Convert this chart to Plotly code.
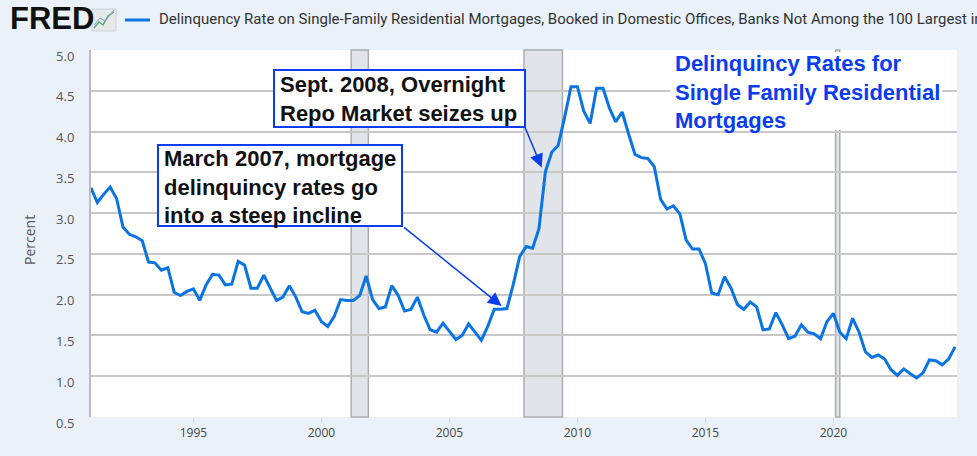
import pandas as pd
import plotly.graph_objects as go

# ---------------- data ----------------
start_quarter = "1991-01-01"
delinquency_rate = [
    3.31, 3.13, 3.23, 3.32, 3.18, 2.83, 2.74, 2.71, 2.66, 2.40,
    2.39, 2.30, 2.33, 2.03, 1.99, 2.04, 2.07, 1.93, 2.12, 2.25,
    2.24, 2.12, 2.13, 2.41, 2.36, 2.08, 2.08,
    2.24, 2.08, 1.93, 1.97, 2.11, 1.97, 1.79, 1.77, 1.81, 1.67,
    1.61, 1.73, 1.94, 1.93, 1.93, 1.99, 2.23, 1.94, 1.83, 1.85,
    2.11, 1.99, 1.80, 1.82, 1.97, 1.75, 1.57,
    1.54, 1.65, 1.55, 1.45, 1.50, 1.64, 1.54, 1.44, 1.61, 1.82,
    1.82, 1.83, 2.13, 2.47, 2.59, 2.57, 2.81, 3.51, 3.75, 3.83,
    4.17, 4.55, 4.55, 4.25, 4.10, 4.53,
    4.53, 4.29, 4.12, 4.24, 3.97, 3.72, 3.68, 3.67, 3.57, 3.17,
    3.05, 3.09, 2.99, 2.67, 2.56, 2.56, 2.38, 2.02, 2.00, 2.22,
    2.08, 1.88, 1.82, 1.91, 1.85,
    1.57, 1.58, 1.78, 1.63, 1.46, 1.49, 1.63, 1.54, 1.52, 1.46,
    1.67, 1.77, 1.54, 1.46, 1.71, 1.54, 1.30, 1.23, 1.26, 1.21,
    1.08, 1.01, 1.09, 1.03, 0.98, 1.04, 1.20, 1.19, 1.14, 1.21,
    1.36,
]
quarters = pd.date_range(start_quarter, periods=len(delinquency_rate), freq="QS")

recession_starts = ["2001-03-01", "2007-12-01", "2020-02-01"]
recession_ends = ["2001-11-01", "2009-06-01", "2020-04-01"]

tick_years = [1995, 2000, 2005, 2010, 2015, 2020]
y_ticks = [0.5, 1.0, 1.5, 2.0, 2.5, 3.0, 3.5, 4.0, 4.5, 5.0]

series_title = ("Delinquency Rate on Single-Family Residential Mortgages, Booked in "
                "Domestic Offices, Banks Not Among the 100 Largest in Size by Assets")
note_2007 = "March 2007, mortgage<br>delinquincy rates go<br>into a steep incline"
note_2008 = "Sept. 2008, Overnight<br>Repo Market seizes up"
chart_caption = "Delinquincy Rates for<br>Single Family Residential<br>Mortgages"

# ---------------- layout helpers ----------------
W, H = 977, 456
PL, PR, PT, PB = 91, 957, 50, 417


def px(x):
    return (x - PL) / (PR - PL)


def py(y):
    return (PB - y) / (PB - PT)


LINE_BLUE = "#0b74e3"
NOTE_BLUE = "#0a3cf0"
BG = "#eaf1f9"

fig = go.Figure()
fig.add_trace(go.Scatter(
    x=quarters, y=delinquency_rate, mode="lines",
    line=dict(color=LINE_BLUE, width=3), showlegend=False,
    hoverinfo="x+y",
))

shapes = []
for s, e in zip(recession_starts, recession_ends):
    shapes.append(dict(type="rect", xref="x", yref="paper", x0=s, x1=e, y0=0, y1=1,
                       fillcolor="#e1e5ea", line=dict(color="#a9adb1", width=1.5),
                       layer="below"))

# annotation boxes
shapes.append(dict(type="rect", xref="paper", yref="paper",
                   x0=px(158), x1=px(402), y0=py(226), y1=py(145),
                   fillcolor="white", line=dict(color=NOTE_BLUE, width=2), layer="above"))
shapes.append(dict(type="rect", xref="paper", yref="paper",
                   x0=px(274), x1=px(525), y0=py(127), y1=py(70),
                   fillcolor="white", line=dict(color=NOTE_BLUE, width=2), layer="above"))
shapes.append(dict(type="rect", xref="paper", yref="paper",
                   x0=px(670), x1=px(942), y0=py(130), y1=py(52),
                   fillcolor="white", line=dict(width=0), layer="above"))

# header: legend line + logo icon
shapes.append(dict(type="line", xref="paper", yref="paper",
                   x0=px(125), x1=px(150), y0=py(20), y1=py(20),
                   line=dict(color=LINE_BLUE, width=3)))
shapes.append(dict(type="rect", xref="paper", yref="paper",
                   x0=px(92), x1=px(116), y0=py(31), y1=py(9),
                   fillcolor="#e6e8ea", line=dict(color="#d0d4d8", width=1)))
shapes.append(dict(type="path", xref="paper", yref="paper",
                   path=(f"M {px(94)} {py(28)} L {px(99)} {py(22)} L {px(103)} {py(25)} "
                         f"L {px(108)} {py(16)} L {px(114)} {py(12)}"),
                   line=dict(color="#5aa870", width=1.5)))
shapes.append(dict(type="path", xref="paper", yref="paper",
                   path=(f"M {px(94)} {py(25)} L {px(100)} {py(18)} L {px(105)} {py(21)} "
                         f"L {px(114)} {py(10)}"),
                   line=dict(color="#7a9fc8", width=1)))

annotations = []
bold = "Liberation Sans, Arial, sans-serif"
annotations.append(dict(xref="paper", yref="paper", x=px(162), y=py(186.5),
                        xanchor="left", yanchor="middle", align="left", showarrow=False,
                        text=f"<b>{note_2007}</b>",
                        font=dict(family=bold, size=22, color="#111111")))
annotations.append(dict(xref="paper", yref="paper", x=px(278), y=py(99),
                        xanchor="left", yanchor="middle", align="left", showarrow=False,
                        text=f"<b>{note_2008}</b>",
                        font=dict(family=bold, size=22, color="#111111")))
annotations.append(dict(xref="paper", yref="paper", x=px(673), y=py(92),
                        xanchor="left", yanchor="middle", align="left", showarrow=False,
                        text=f"<b>{chart_caption}</b>",
                        font=dict(family=bold, size=22, color=NOTE_BLUE)))
# arrows
annotations.append(dict(x="2007-01-14", y=1.86, xref="x", yref="y", text="",
                        showarrow=True, ax=-99, ay=-80, arrowhead=2, arrowsize=1.8,
                        arrowwidth=1.5, arrowcolor=NOTE_BLUE))
annotations.append(dict(x="2008-08-09", y=3.56, xref="x", yref="y", text="",
                        showarrow=True, ax=-17, ay=-41, arrowhead=2, arrowsize=1.8,
                        arrowwidth=1.5, arrowcolor=NOTE_BLUE))
# header
annotations.append(dict(xref="paper", yref="paper", x=px(8), y=py(19),
                        xanchor="left", yanchor="middle", showarrow=False,
                        text="<b>FRED</b>",
                        font=dict(family="Liberation Sans Narrow, Liberation Sans, Arial", size=31,
                                  color="#111111")))
annotations.append(dict(xref="paper", yref="paper", x=px(157), y=py(19),
                        xanchor="left", yanchor="middle", showarrow=False,
                        text=series_title,
                        font=dict(family="Roboto, sans-serif", size=15, color="#333333")))
# y axis title
annotations.append(dict(xref="paper", yref="paper", x=px(29), y=py(240),
                        xanchor="center", yanchor="middle", showarrow=False,
                        text="Percent", textangle=-90,
                        font=dict(family="Open Sans, sans-serif", size=14, color="#555555")))

fig.update_layout(
    width=W, height=H,
    margin=dict(l=PL, r=W - PR, t=PT, b=H - PB, pad=0),
    paper_bgcolor=BG, plot_bgcolor="white",
    shapes=shapes, annotations=annotations,
    xaxis=dict(type="date", range=["1991-01-01", "2024-10-29"],
               tickvals=[f"{y}-01-01" for y in tick_years],
               ticktext=[str(y) for y in tick_years],
               showgrid=False, zeroline=False, showline=False,
               ticks="outside", ticklen=5, tickcolor="#d5d9de", tickwidth=1,
               tickfont=dict(family="Open Sans, sans-serif", size=12, color="#444444")),
    yaxis=dict(range=[0.5, 5.0], tickvals=y_ticks, tickformat=".1f",
               showgrid=True, gridcolor="#c8c8c8", gridwidth=2, zeroline=False,
               showline=True, linecolor="#bdbdbd", linewidth=2,
               ticks="", ticklabelstandoff=12, ticklabelshift=6,
               tickfont=dict(family="Open Sans, sans-serif", size=13, color="#555555")),
)

fig.write_html("out.html", config={"displayModeBar": False},
               post_script="document.body.style.margin='0';document.body.style.overflow='hidden';")
